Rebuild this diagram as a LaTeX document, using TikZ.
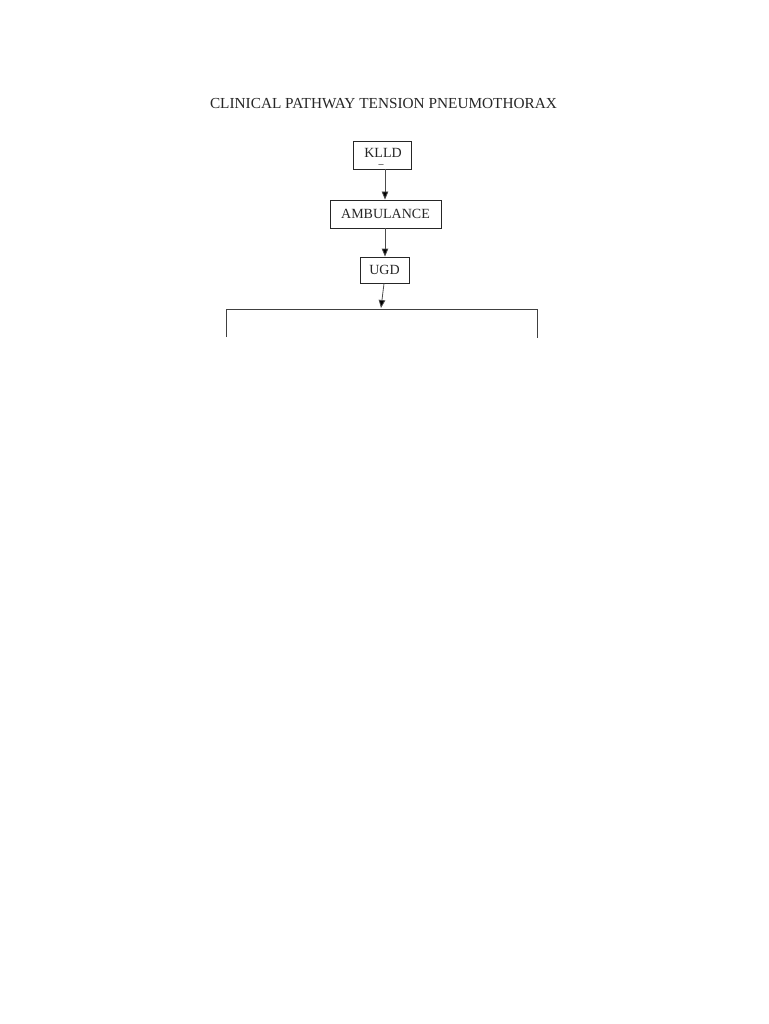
\documentclass[tikz,border=0pt]{standalone}
\usepackage{fontspec}
\setmainfont{Liberation Serif}
\usetikzlibrary{arrows.meta}
\begin{document}
\begin{tikzpicture}[x=1pt,y=-1pt,
  box/.style={draw=black!85,line width=0.8pt,rectangle,inner sep=0pt,
    font=\fontsize{14}{16}\selectfont,text=black!85,text height=9.5pt,text depth=0pt},
  link/.style={draw=black!70,line width=0.8pt,-{Triangle[length=8pt,width=6.5pt,fill=black]}},
  bar/.style={draw=black!75,line width=0.9pt}]
\useasboundingbox (0,0) rectangle (768,1024);
\node[anchor=base,font=\fontsize{15.3}{18}\selectfont,text=black!85] (title) at (383.5,108.5) {CLINICAL PATHWAY TENSION PNEUMOTHORAX};
\node[box,minimum width=58pt,minimum height=28pt] (klld) at (382,155) {};
\node[anchor=base,font=\fontsize{14}{16}\selectfont,text=black!85,inner sep=0pt] (klldtxt) at (383,158) {KLLD};
\node[font=\fontsize{10}{12}\selectfont,text=black,inner sep=0pt] (dash) at (381,166) {–};
\node[box,minimum width=111pt,minimum height=28pt] (amb) at (385.5,214) {AMBULANCE};
\node[box,minimum width=49pt,minimum height=26pt] (ugd) at (384.5,270) {UGD};
\coordinate (t1) at (385,169);
\coordinate (bt) at (381,308);
\coordinate (bl) at (226,309);
\coordinate (br) at (537,309);
\coordinate (bld) at (226,337);
\coordinate (brd) at (537,338);
\draw[link] (t1) -- (t1 |- amb.north);
\draw[link] (amb.south -| t1) -- (ugd.north -| t1);
\draw[link] ([xshift=-0.5pt]ugd.south) -- (bt);
\draw[bar] (bld) -- (bl) -- (br) -- (brd);
\end{tikzpicture}
\end{document}
